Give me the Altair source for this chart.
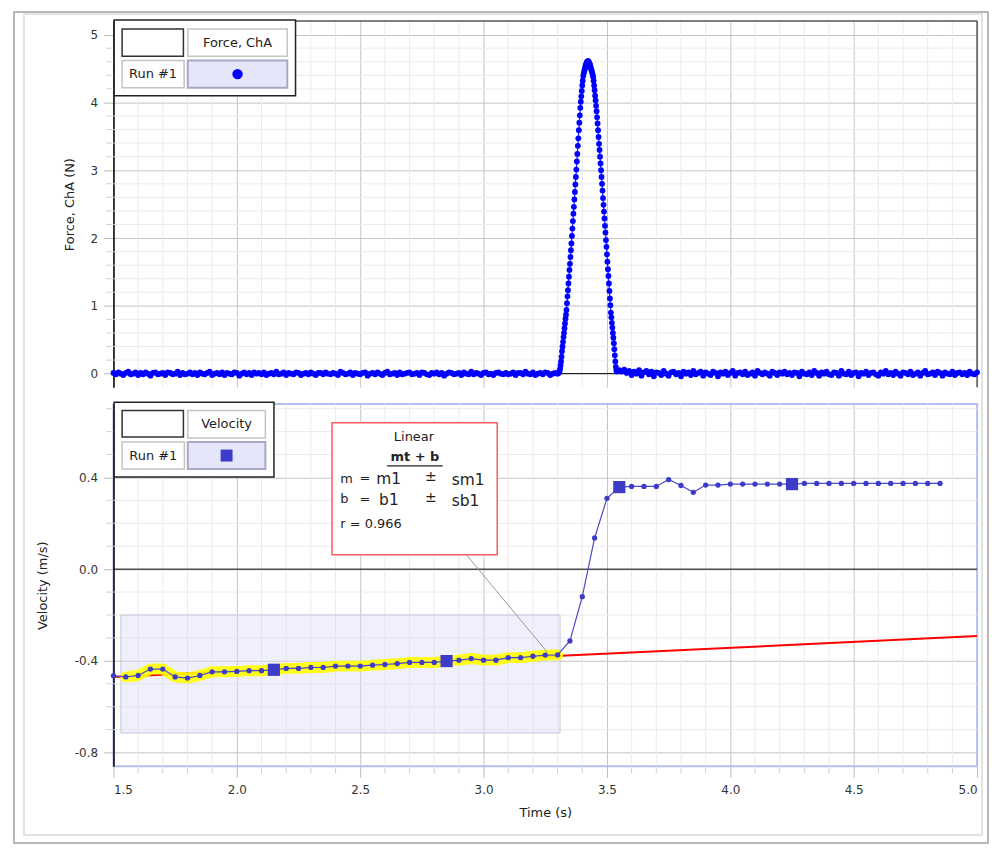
import altair as alt
import pandas as pd

FONT = "DejaVu Sans"

# ---------------- data ----------------
# Force, ChA (N): baseline noise before the impulse, in hundredths of a newton
force_pre_start = 1.50
force_pre_step = 0.01
force_pre_cN = [
    1, -1, 2, 0, -2, 1, 3, -1, 0, 2, -2, 1, -1, 2, 0, -3, 1, 2, -1, 0,
    1, -2, 2, 1, -1, 0, 3, -2, 1, -1, 0, 2, -1, 1, -2, 2, 0, -1, 1, 3,
    -2, 0, 1, -1, 2, -2, 1, 0, -1, 2, 1, -3, 0, 2, -1, 1, -2, 2, 0, 1,
    -1, 2, -2, 0, 1, -1, 3, -1, 0, 2, -2, 1, 0, -1, 2, 1, -2, 0, 1, -1,
    2, 0, -2, 1, 1, -1, 2, 0, -1, 1, 0, -2, 3, 1, -1, 0, 2, -2, 1, 0,
    -1, 1, 2, -3, 0, 1, -1, 2, 0, -2, 1, 3, -1, 0, 1, -2, 2, -1, 0, 1,
    2, -1, 0, 1, -2, 2, 1, -1, -2, 1, 0, 2, -1, 1, -3, 0, 2, 1, -1, 0,
    1, -2, 2, 0, -1, 3, -1, 1, 0, -2, 1, 2, -1, 0, -2, 1, 2, 0, -1, 1,
    -1, 0, 2, -2, 1, 1, -1, 3, 0, -1, 2, -2, 0, 1, -1, 2, 1, -2, 0, 1,
    0,
]
# the impulse itself (N), every 2 ms
force_peak_start = 3.304
force_peak_step = 0.002
force_peak = [
    0.01, 0.02, 0.04, 0.07, 0.12, 0.18, 0.25, 0.33, 0.40, 0.47,
    0.54, 0.60, 0.67, 0.74, 0.81, 0.87, 0.94, 1.04, 1.14, 1.23,
    1.33, 1.43, 1.53, 1.62, 1.72, 1.82, 1.92, 2.03, 2.14, 2.25,
    2.36, 2.46, 2.57, 2.68, 2.79, 2.90, 3.01, 3.13, 3.24, 3.36,
    3.47, 3.59, 3.70, 3.81, 3.92, 4.01, 4.09, 4.17, 4.25, 4.32,
    4.39, 4.43, 4.46, 4.49, 4.52, 4.55, 4.57, 4.59, 4.60, 4.61,
    4.61, 4.60, 4.58, 4.57, 4.55, 4.52, 4.49, 4.47, 4.44, 4.41,
    4.38, 4.32, 4.25, 4.18, 4.10, 4.03, 3.95, 3.87, 3.78, 3.69,
    3.59, 3.49, 3.39, 3.30, 3.20, 3.10, 3.00, 2.90, 2.80, 2.70,
    2.59, 2.49, 2.39, 2.29, 2.18, 2.08, 1.97, 1.87, 1.76, 1.65,
    1.54, 1.44, 1.33, 1.22, 1.11, 1.01, 0.90, 0.83, 0.75, 0.68,
    0.60, 0.53, 0.45, 0.36, 0.27, 0.18, 0.10, 0.05, 0.03,
]
# baseline noise after the impulse, in hundredths of a newton
force_post_start = 3.55
force_post_step = 0.01
force_post_cN = [
    5, 3, 6, 1, 4, -2, 3, 0, 5, -3, 2, 4, -1, 3, -4, 2, 1, -2, 4, 0,
    -3, 2, 3, -1, 1, -4, 3, 0, 2, -2, 4, -1, 1, 3, -3, 2, 0, -2, 3, 1,
    -4, 2, 0, 3, -2, 1, 4, -3, 1, 2, -1, 3, -2, 0, 2, -3, 4, 1, -1, 2,
    0, -3, 3, 1, -2, 2, 0, 3, -1, 1, -2, 2, 1, -4, 3, 0, -1, 2, -2, 4,
    1, -3, 2, 0, 3, -1, -2, 2, 1, -3, 4, 0, -1, 3, -2, 1, 2, -4, 1, 0,
    3, -2, 1, 2, -1, -3, 2, 0, 4, -1, 1, -2, 3, 0, -3, 2, 1, -1, 3, -2,
    0, 2, -3, 1, 4, -1, 0, 2, -2, 3, 1, -3, 2, 0, -1, 3, -2, 1, 2, -1,
    1, -2, 3, 0, -1, 2,
]

# Velocity (m/s), sampled every 0.05 s from 1.50 s
vel_start = 1.50
vel_step = 0.05
velocity = [
    -0.465, -0.470, -0.464, -0.436, -0.436, -0.470, -0.475, -0.464, -0.448, -0.448,
    -0.446, -0.443, -0.443, -0.439, -0.433, -0.433, -0.429, -0.429, -0.423, -0.423,
    -0.423, -0.419, -0.416, -0.412, -0.407, -0.407, -0.407, -0.401, -0.397, -0.390,
    -0.397, -0.397, -0.386, -0.386, -0.380, -0.375, -0.374, -0.313, -0.120, 0.136,
    0.309, 0.358, 0.361, 0.361, 0.361, 0.391, 0.365, 0.335, 0.367, 0.367,
    0.371, 0.371, 0.371, 0.371, 0.371, 0.371, 0.374, 0.374, 0.374, 0.374,
    0.374, 0.374, 0.374, 0.374, 0.374, 0.374, 0.374, 0.374,
]
square_times = [2.15, 2.85, 3.55, 4.25]
highlight_range = [1.55, 3.30]
fit_t = [1.5, 5.0]
fit_v = [-0.470, -0.292]
sel_t = [1.53, 3.31]
sel_v = [-0.715, -0.20]

# axis ticks / grid
x_major = [1.5, 2.0, 2.5, 3.0, 3.5, 4.0, 4.5, 5.0]
x_minor = [1.6, 1.7, 1.8, 1.9, 2.1, 2.2, 2.3, 2.4, 2.6, 2.7, 2.8, 2.9,
           3.1, 3.2, 3.3, 3.4, 3.6, 3.7, 3.8, 3.9, 4.1, 4.2, 4.3, 4.4,
           4.6, 4.7, 4.8, 4.9]
force_major = [0, 1, 2, 3, 4, 5]
force_minor = [0.2, 0.4, 0.6, 0.8, 1.2, 1.4, 1.6, 1.8, 2.2, 2.4, 2.6, 2.8,
               3.2, 3.4, 3.6, 3.8, 4.2, 4.4, 4.6, 4.8]
vel_major = [-0.8, -0.4, 0.0, 0.4]
vel_minor = [-0.7, -0.6, -0.5, -0.3, -0.2, -0.1, 0.1, 0.2, 0.3, 0.5, 0.6, 0.7]


# ---------------- tables ----------------
def series(start, step, vals, col, scale=1.0):
    return pd.DataFrame({
        "t": [round(start + step * i, 4) for i in range(len(vals))],
        col: [v * scale for v in vals],
    })


force_df = pd.concat([
    series(force_pre_start, force_pre_step, force_pre_cN, "f", 0.01),
    series(force_peak_start, force_peak_step, force_peak, "f"),
    series(force_post_start, force_post_step, force_post_cN, "f", 0.01),
]).sort_values("t").reset_index(drop=True)

vel_df = series(vel_start, vel_step, velocity, "v")
vel_df["t"] = vel_df["t"].round(2)
sq_df = vel_df[vel_df["t"].isin(square_times)]
hl_df = vel_df[(vel_df["t"] >= highlight_range[0] - 1e-9) & (vel_df["t"] <= highlight_range[1] + 1e-9)]
fit_df = pd.DataFrame({"t": fit_t, "v": fit_v})
sel_df = pd.DataFrame({"t": [sel_t[0]], "t2": [sel_t[1]], "v": [sel_v[0]], "v2": [sel_v[1]]})

xmin_df = pd.DataFrame({"t": x_minor})
fmin_df = pd.DataFrame({"f": force_minor})
vmin_df = pd.DataFrame({"v": vel_minor})
fzero_df = pd.DataFrame({"f": [0.0]})
vzero_df = pd.DataFrame({"v": [0.0]})
one = pd.DataFrame({"k": [0]})

# ---------------- scales / axes ----------------
W, H1, H2 = 868, 368, 364
GRID = "#c4c4c4"
MINOR = "#ebebeb"
xscale = alt.Scale(domain=[1.5, 5.0], nice=False, zero=False)
fscale = alt.Scale(domain=[-0.2, 5.2], nice=False, zero=False)
vscale = alt.Scale(domain=[-0.86, 0.72], nice=False, zero=False)

common_axis = dict(labelFont=FONT, titleFont=FONT, labelFontSize=12, titleFontSize=13,
                   labelColor="#333", titleColor="#222", titleFontWeight="normal",
                   gridColor=GRID, gridWidth=1, tickColor="#bbb", tickWidth=1)

ax_top_x = alt.Axis(values=x_major, labels=False, ticks=False, domain=False, title=None, grid=True,
                    gridColor=GRID)
ax_top_y = alt.Axis(values=force_major, format="d", title="Force, ChA (N)", tickSize=10,
                    labelPadding=6, titlePadding=14, domainColor="#000", domainWidth=1.5,
                    **common_axis)
ax_bot_x = alt.Axis(values=x_major, format=".1f", title="Time (s)", tickSize=11, labelPadding=7,
                    titlePadding=11, domain=False, **common_axis)
ax_bot_y = alt.Axis(values=vel_major,
                    labelExpr="datum.value < 0 ? '-' + format(-datum.value, '.1f') : format(datum.value, '.1f')",
                    title="Velocity (m/s)", tickSize=10, labelPadding=6, titlePadding=25,
                    domainColor="#000", domainWidth=1.5, **common_axis)

XT = alt.X("t:Q", scale=xscale, axis=ax_top_x)
XB = alt.X("t:Q", scale=xscale, axis=ax_bot_x)
YF = alt.Y("f:Q", scale=fscale, axis=ax_top_y)
YV = alt.Y("v:Q", scale=vscale, axis=ax_bot_y)


# ---------------- decoration helpers ----------------
def box(x, x2, y, y2, fill="white", stroke="#bbb", sw=1.5, fo=1.0):
    return alt.Chart(one).mark_rect(fill=fill, fillOpacity=fo, stroke=stroke, strokeWidth=sw).encode(
        x=alt.value(x), x2=alt.value(x2), y=alt.value(y), y2=alt.value(y2))


def label(x, y, s, size=13, align="center", weight="normal", color="#222"):
    return alt.Chart(one).mark_text(fontSize=size, align=align, baseline="middle", fontWeight=weight,
                                    font=FONT, color=color).encode(
        x=alt.value(x), y=alt.value(y), text=alt.value(s))


def seg(x, x2, y, y2, color="#999", sw=1.0):
    return alt.Chart(one).mark_rule(color=color, strokeWidth=sw).encode(
        x=alt.value(x), x2=alt.value(x2), y=alt.value(y), y2=alt.value(y2))


# ---------------- top panel: force ----------------
top_layers = [
    box(-100, 879, -9, 826, fill="white", fo=0, stroke="#a0a0a0", sw=1.5),
    box(-90, 873, -7, 818, fill="white", fo=0, stroke="#e2e2e2", sw=2),
    alt.Chart(xmin_df).mark_rule(color=MINOR, strokeWidth=1).encode(x=XT),
    alt.Chart(fmin_df).mark_rule(color=MINOR, strokeWidth=1).encode(y=YF),
    alt.Chart(fmin_df).mark_rule(color="#ccc", strokeWidth=1).encode(y=YF, x=alt.value(-7), x2=alt.value(-2)),
    seg(0, W, 0, 0, color="#555", sw=1.5),
    seg(W, W, 0, H1, color="#555", sw=1.5),
    alt.Chart(fzero_df).mark_rule(color="#000", strokeWidth=1).encode(y=YF),
    alt.Chart(force_df).mark_line(color="#1a1aff", strokeWidth=1.2).encode(x=XT, y=YF),
    alt.Chart(force_df).mark_circle(color="#0000ff", size=34, opacity=1).encode(x=XT, y=YF),
    # legend
    box(0.7, 183, -1, 75, fill="white", stroke="#222", sw=1.5),
    box(8.7, 70.3, 8, 35.3, fill="white", stroke="#333", sw=1.5),
    box(74.7, 174.7, 8, 35.3, fill="white", stroke="#c4c4c4", sw=1.5),
    box(8.7, 71, 39.7, 67, fill="white", stroke="#c4c4c4", sw=1.5),
    box(74.7, 174.7, 39.7, 67, fill="#e6e6fb", stroke="#a8a8c4", sw=2),
    label(124.7, 21.7, "Force, ChA"),
    label(39.8, 53.3, "Run #1"),
    alt.Chart(one).mark_circle(color="#0000ff", size=110, opacity=1).encode(
        x=alt.value(124.7), y=alt.value(53.3)),
]
top = alt.layer(*top_layers).properties(
    width=W, height=H1, view=alt.ViewBackground(stroke="transparent"))

# ---------------- bottom panel: velocity ----------------
VCOL = "#3c3cc8"
bot_layers = [
    alt.Chart(xmin_df).mark_rule(color=MINOR, strokeWidth=1).encode(x=XB),
    alt.Chart(vmin_df).mark_rule(color=MINOR, strokeWidth=1).encode(y=YV),
    alt.Chart(vmin_df).mark_rule(color="#ccc", strokeWidth=1).encode(y=YV, x=alt.value(-7), x2=alt.value(-2)),
    alt.Chart(xmin_df).mark_rule(color="#ccc", strokeWidth=1).encode(x=XB, y=alt.value(H2 + 2), y2=alt.value(H2 + 7)),
    alt.Chart(sel_df).mark_rect(fill="#d8dcf5", fillOpacity=0.42, stroke="#c6c8da", strokeWidth=1).encode(
        x=XB, x2="t2:Q", y=YV, y2="v2:Q"),
    alt.Chart(vzero_df).mark_rule(color="#000", strokeWidth=1).encode(y=YV),
    alt.Chart(fit_df).mark_line(color="#ff0000", strokeWidth=2).encode(x=XB, y=YV),
    alt.Chart(hl_df).mark_line(color="#ffff00", strokeWidth=11, strokeCap="round", strokeJoin="round",
                               opacity=0.9).encode(x=XB, y=YV),
    alt.Chart(vel_df).mark_line(color="#4a4acc", strokeWidth=1.2).encode(x=XB, y=YV),
    alt.Chart(vel_df).mark_circle(color=VCOL, size=28, opacity=1).encode(x=XB, y=YV),
    alt.Chart(sq_df).mark_square(color=VCOL, size=150, opacity=1).encode(x=XB, y=YV),
    # fit annotation
    seg(354.7, 436.3, 151.3, 249.7, color="#999", sw=1),
    box(219.7, 385.7, 18.7, 151.3, fill="white", stroke="#ff5a5a", sw=1.5),
    label(302, 33, "Linear"),
    label(303, 53, "mt + b", weight="bold"),
    seg(275, 331, 62, 62, color="#222", sw=1.2),
    label(228, 75, "m", align="left"),
    label(252.7, 74, "=", align="center"),
    label(264, 75, "m1", size=15.5, align="left"),
    label(319, 73, "±", size=14, align="center"),
    label(340, 76, "sm1", size=15.5, align="left"),
    label(228, 95, "b", align="left"),
    label(252.7, 95, "=", align="center"),
    label(267, 96, "b1", size=15.5, align="left"),
    label(319, 94, "±", size=14, align="center"),
    label(340, 97, "sb1", size=15.5, align="left"),
    label(228, 121, "r = 0.966", align="left"),
    # legend
    box(0.7, 161.3, -2, 73.3, fill="white", stroke="#222", sw=1.5),
    box(8.7, 70.3, 6.3, 33, fill="white", stroke="#333", sw=1.5),
    box(74.7, 152.7, 6.3, 34, fill="white", stroke="#c4c4c4", sw=1.5),
    box(8.7, 71.3, 38, 65.3, fill="white", stroke="#c4c4c4", sw=1.5),
    box(74.7, 152.7, 38, 65.3, fill="#e6e6fb", stroke="#a8a8c4", sw=2),
    label(113.7, 20.2, "Velocity"),
    label(40, 51.7, "Run #1"),
    alt.Chart(one).mark_square(color=VCOL, size=144, opacity=1).encode(
        x=alt.value(113.7), y=alt.value(51.7)),
]
bottom = alt.layer(*bot_layers).properties(
    width=W, height=H2, view=alt.ViewBackground(stroke="#b4bff0", strokeWidth=2))

chart = alt.vconcat(top, bottom, spacing=17, bounds="flush").properties(
    padding={"left": 4, "top": 0, "right": 0, "bottom": 0},
    background="white",
).configure(font=FONT)

chart.save("out.html", embed_options={"renderer": "svg", "actions": False})
